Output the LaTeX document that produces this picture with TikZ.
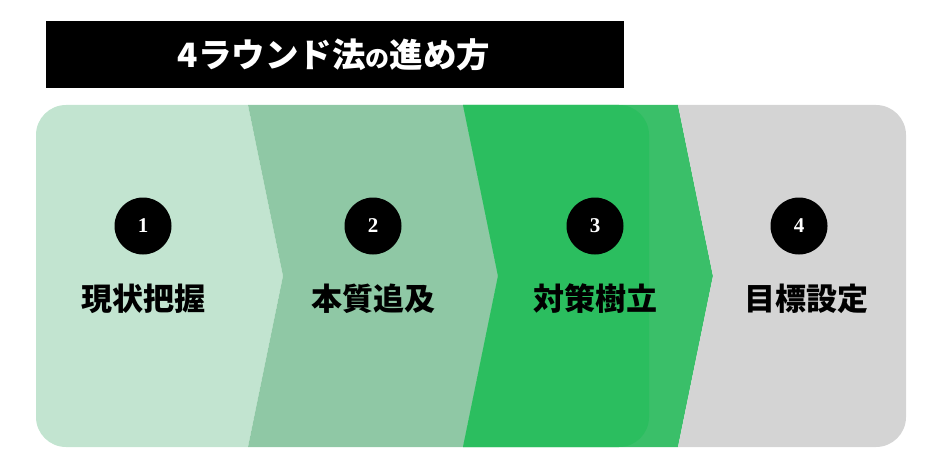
\documentclass[tikz,border=0pt]{standalone}
\usepackage{fontspec}
\newfontfamily\jp{Noto Sans CJK JP}
\newfontfamily\numfont{Liberation Serif}
\definecolor{cA}{HTML}{C2E4D0}
\definecolor{cB}{HTML}{8FC8A5}
\definecolor{cC}{HTML}{3ABF69}
\definecolor{cCd}{HTML}{2BBE5F}
\definecolor{cD}{HTML}{D4D4D4}
\tikzset{
  num/.style={circle,fill=black,minimum size=57pt,inner sep=0pt,text=white,font=\numfont\bfseries\fontsize{21}{21}\selectfont},
  lbl/.style={inner sep=0pt,text=black,font=\jp\bfseries\fontsize{31}{31}\selectfont},
}
\begin{document}
\begin{tikzpicture}[x=1pt,y=-1pt]
\useasboundingbox (0,0) rectangle (936,473);
% title
\node[fill=black,minimum width=578pt,minimum height=67pt,inner sep=0pt,anchor=north west] (tbox) at (46,21) {};
\node[text=white,inner sep=0pt,font=\jp\bfseries\fontsize{33.5}{33.5}\selectfont] (title) at (334,55) {4ラウンド法{\fontsize{24}{24}\selectfont の}進め方};
% chevrons
\begin{scope}
\clip[rounded corners=30pt] (36,105) rectangle (906,447);
\fill[cA] (0,105) -- (248,105) -- (283,276) -- (248,447) -- (0,447) -- cycle;
\fill[cB] (248,105) -- (463,105) -- (498,276) -- (463,447) -- (248,447) -- (283,276) -- cycle;
\begin{scope}
\clip (463,105) -- (678,105) -- (713,276) -- (678,447) -- (463,447) -- (498,276) -- cycle;
\fill[cC] (440,100) rectangle (720,450);
\fill[cCd,rounded corners=30pt] (400,105) rectangle (649,447);
\end{scope}
\fill[cD] (678,105) -- (940,105) -- (940,447) -- (678,447) -- (713,276) -- cycle;
\end{scope}
% numbers
\node[num] (c1) at (143,226) {1};
\node[num] (c2) at (373,226) {2};
\node[num] (c3) at (595,226) {3};
\node[num] (c4) at (799,226) {4};
% labels
\node[lbl] (l1) at (143,299) {現状把握};
\node[lbl] (l2) at (373,299) {本質追及};
\node[lbl] (l3) at (595,299) {対策樹立};
\node[lbl] (l4) at (806,299) {目標設定};
\end{tikzpicture}
\end{document}
